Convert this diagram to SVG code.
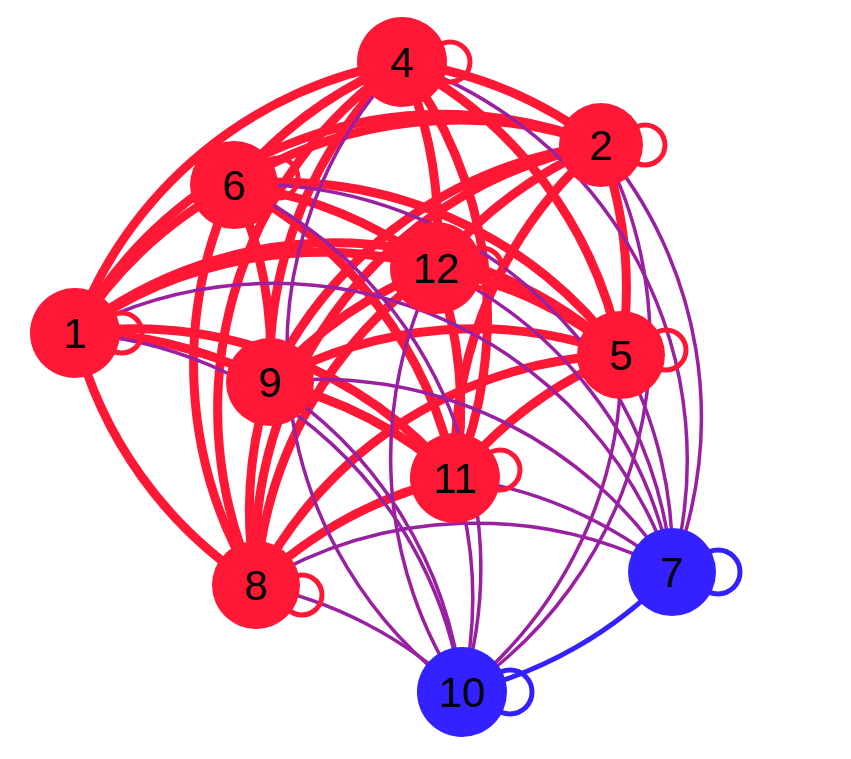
<svg xmlns="http://www.w3.org/2000/svg" width="851" height="759" viewBox="0 0 851 759">
<style>
.r{fill:none;stroke:#FF1835;stroke-width:9}
.p{fill:none;stroke:#9920A0;stroke-width:3.5}
.b{fill:none;stroke:#3322FF;stroke-width:5}
.lr{fill:none;stroke:#FF1835;stroke-width:5}
.nr{fill:#FF1835}
.nb{fill:#3322FF}
text{font-family:"Liberation Sans",Arial,sans-serif;font-size:42px;fill:#000;text-anchor:middle;dominant-baseline:central}
</style>
<rect width="851" height="759" fill="#fff"/>
<g id="connectors">
<path class="r" d="M75 333 A420 420 0 0 1 402 62"/>
<path class="r" d="M75 333 A420 420 0 0 1 601 145"/>
<path class="r" d="M75 333 A420 420 0 0 1 234 185"/>
<path class="r" d="M75 333 A420 420 0 0 1 436 268"/>
<path class="r" d="M75 333 A420 420 0 0 1 621 355"/>
<path class="r" d="M75 333 A420 420 0 0 1 270 382"/>
<path class="r" d="M75 333 A420 420 0 0 1 455 478"/>
<path class="r" d="M256 585 A420 420 0 0 1 75 333"/>
<path class="r" d="M234 185 A420 420 0 0 1 402 62"/>
<path class="r" d="M234 185 A420 420 0 0 1 601 145"/>
<path class="r" d="M234 185 A420 420 0 0 1 436 268"/>
<path class="r" d="M234 185 A420 420 0 0 1 621 355"/>
<path class="r" d="M234 185 A420 420 0 0 1 270 382"/>
<path class="r" d="M234 185 A420 420 0 0 1 455 478"/>
<path class="r" d="M256 585 A420 420 0 0 1 234 185"/>
<path class="r" d="M402 62 A420 420 0 0 1 601 145"/>
<path class="r" d="M402 62 A420 420 0 0 1 436 268"/>
<path class="r" d="M402 62 A420 420 0 0 1 621 355"/>
<path class="r" d="M270 382 A420 420 0 0 1 402 62"/>
<path class="r" d="M402 62 A420 420 0 0 1 455 478"/>
<path class="r" d="M256 585 A420 420 0 0 1 402 62"/>
<path class="r" d="M601 145 A420 420 0 0 1 621 355"/>
<path class="r" d="M436 268 A420 420 0 0 1 601 145"/>
<path class="r" d="M270 382 A420 420 0 0 1 601 145"/>
<path class="r" d="M455 478 A420 420 0 0 1 601 145"/>
<path class="r" d="M256 585 A420 420 0 0 1 601 145"/>
<path class="r" d="M436 268 A420 420 0 0 1 621 355"/>
<path class="r" d="M270 382 A420 420 0 0 1 436 268"/>
<path class="r" d="M436 268 A420 420 0 0 1 455 478"/>
<path class="r" d="M256 585 A420 420 0 0 1 436 268"/>
<path class="r" d="M270 382 A420 420 0 0 1 621 355"/>
<path class="r" d="M455 478 A420 420 0 0 1 621 355"/>
<path class="r" d="M256 585 A420 420 0 0 1 621 355"/>
<path class="r" d="M270 382 A420 420 0 0 1 455 478"/>
<path class="r" d="M256 585 A420 420 0 0 1 270 382"/>
<path class="r" d="M256 585 A420 420 0 0 1 455 478"/>
<path class="p" d="M75 333 A420 420 0 0 1 672 572"/>
<path class="p" d="M75 333 A420 420 0 0 1 462 692"/>
<path class="p" d="M234 185 A420 420 0 0 1 672 572"/>
<path class="p" d="M234 185 A420 420 0 0 1 462 692"/>
<path class="p" d="M402 62 A420 420 0 0 1 672 572"/>
<path class="p" d="M462 692 A420 420 0 0 1 402 62"/>
<path class="p" d="M601 145 A420 420 0 0 1 672 572"/>
<path class="p" d="M601 145 A420 420 0 0 1 462 692"/>
<path class="p" d="M436 268 A420 420 0 0 1 672 572"/>
<path class="p" d="M462 692 A420 420 0 0 1 436 268"/>
<path class="p" d="M621 355 A420 420 0 0 1 672 572"/>
<path class="p" d="M621 355 A420 420 0 0 1 462 692"/>
<path class="p" d="M270 382 A420 420 0 0 1 672 572"/>
<path class="p" d="M270 382 A420 420 0 0 1 462 692"/>
<path class="p" d="M455 478 A420 420 0 0 1 672 572"/>
<path class="p" d="M455 478 A420 420 0 0 1 462 692"/>
<path class="p" d="M256 585 A420 420 0 0 1 672 572"/>
<path class="p" d="M256 585 A420 420 0 0 1 462 692"/>
<path class="b" d="M462 692 A420 420 0 0 0 672 572"/>
</g>
<g id="n4"><circle class="lr" cx="450" cy="62" r="20"/><circle class="nr" cx="402" cy="62" r="45"/><text x="402" y="62">4</text></g>
<g id="n2"><circle class="lr" cx="645" cy="145" r="20"/><circle class="nr" cx="601" cy="145" r="42"/><text x="601" y="145">2</text></g>
<g id="n6"><circle class="lr" cx="278" cy="178" r="20"/><circle class="nr" cx="234" cy="185" r="44"/><text x="234" y="185">6</text></g>
<g id="n12"><circle class="lr" cx="482" cy="268" r="20"/><circle class="nr" cx="436" cy="268" r="46"/><text x="436" y="268">12</text></g>
<g id="n1"><circle class="lr" cx="122" cy="333" r="20"/><circle class="nr" cx="75" cy="333" r="45"/><text x="75" y="333">1</text></g>
<g id="n5"><circle class="lr" cx="666" cy="350" r="20"/><circle class="nr" cx="621" cy="355" r="44"/><text x="621" y="355">5</text></g>
<g id="n9"><circle class="nr" cx="270" cy="382" r="44"/><text x="270" y="382">9</text></g>
<g id="n11"><circle class="lr" cx="500" cy="470" r="20"/><circle class="nr" cx="455" cy="478" r="45"/><text x="455" y="478">11</text></g>
<g id="n8"><circle class="lr" cx="302" cy="595" r="20"/><circle class="nr" cx="256" cy="585" r="44"/><text x="256" y="585">8</text></g>
<g id="n7"><circle class="b" cx="718" cy="572" r="22"/><circle class="nb" cx="672" cy="572" r="44"/><text x="672" y="572">7</text></g>
<g id="n10"><circle class="b" cx="510" cy="692" r="22"/><circle class="nb" cx="462" cy="692" r="45"/><text x="462" y="692">10</text></g>
</svg>
